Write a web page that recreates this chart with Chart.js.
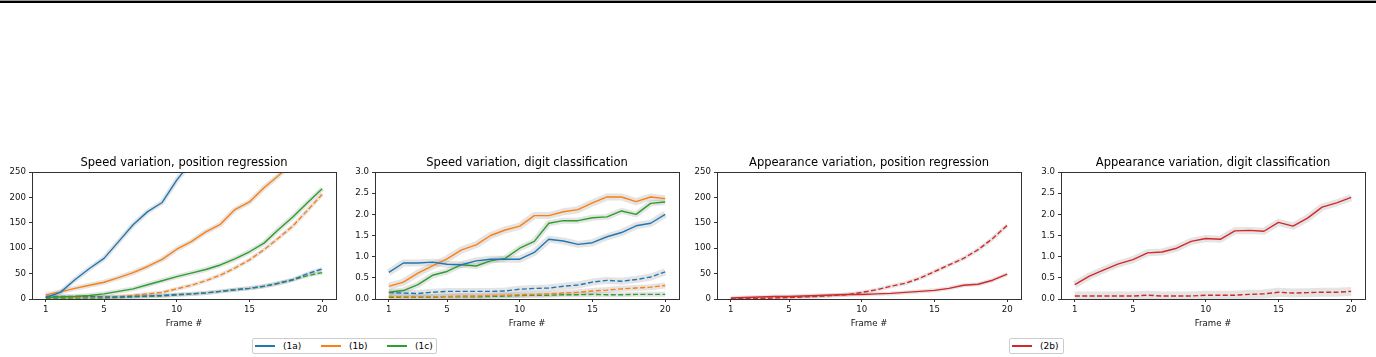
<!DOCTYPE html>
<html><head><meta charset="utf-8">
<script src="https://cdn.jsdelivr.net/npm/chart.js@4/dist/chart.umd.min.js"></script>
<style>
html,body{margin:0;padding:0;background:#fff;width:1376px;height:357px;overflow:hidden;font-family:'DejaVu Sans',sans-serif;}
#topline{position:absolute;left:0;top:0;width:1376px;height:1px;background:#999;}
#topline2{position:absolute;left:0;top:1px;width:1376px;height:2px;background:#000;}
.panel{position:absolute;top:150px;width:342px;height:180px;}
.legend{position:absolute;top:338px;height:16px;border:1px solid #ccc;border-radius:2px;box-sizing:border-box;background:#fff;font-size:9px;color:#000;}
.item{position:absolute;top:0;height:14px;line-height:14px;white-space:nowrap;}
.swatch{position:absolute;top:6px;width:20px;height:2px;}
</style></head>
<body>
<div id="topline"></div><div id="topline2"></div>
<div class="panel" id="p0"><canvas id="c0" width="342" height="180"></canvas></div>
<div class="panel" id="p1"><canvas id="c1" width="342" height="180"></canvas></div>
<div class="panel" id="p2"><canvas id="c2" width="342" height="180"></canvas></div>
<div class="panel" id="p3"><canvas id="c3" width="342" height="180"></canvas></div>
<div class="legend" id="leg1" style="left:252px;width:185px;">
  <div class="swatch" style="left:2px;background:#1f77b4"></div><div class="item" style="left:30px">(1a)</div>
  <div class="swatch" style="left:68px;background:#ff7f0e"></div><div class="item" style="left:96px">(1b)</div>
  <div class="swatch" style="left:134px;background:#2ca02c"></div><div class="item" style="left:162px">(1c)</div>
</div>
<div class="legend" id="leg2" style="left:1009px;width:55px;">
  <div class="swatch" style="left:2px;background:#d62728"></div><div class="item" style="left:30px">(2b)</div>
</div>
<script>
// ---- data ----
const frames = [1,2,3,4,5,6,7,8,9,10,11,12,13,14,15,16,17,18,19,20];
const xTicks = [1,5,10,15,20];
const yTicksPos = [0,50,100,150,200,250];
const yTicksCls = [0,0.5,1,1.5,2,2.5,3];
const titles = ["Speed variation, position regression","Speed variation, digit classification","Appearance variation, position regression","Appearance variation, digit classification"];
const xLabel = "Frame #";

// Speed variation, position regression
const speedPos1a = [3,13,38,60,80,113,146,172,190,234,270,305,340,375,410,445,480,515,550,585];
const speedPos1b = [8,14,21,27,33,42,52,64,78,98,113,132,147,176,191,219,243,270,300,330];
const speedPos1c = [3,4,5,7,10,15,20,28,36,44,51,58,67,79,93,110,137,162,190,217];
const speedPos1aDash = [5,5,5,5,4,4,5,6,7,9,10,12,15,18,21,25,31,38,50,59];
const speedPos1bDash = [3,3,3,4,4,5,7,10,13,20,27,36,47,61,77,97,120,144,175,206];
const speedPos1cDash = [1,1,2,2,2,3,4,5,6,8,10,12,15,18,21,25,31,38,46,52];

// Speed variation, digit classification
const speedCls1a = [0.63,0.85,0.85,0.87,0.82,0.81,0.90,0.94,0.94,0.94,1.10,1.41,1.37,1.29,1.33,1.47,1.57,1.73,1.79,2.00];
const speedCls1b = [0.30,0.40,0.61,0.78,0.95,1.16,1.28,1.50,1.63,1.72,1.97,1.97,2.06,2.11,2.27,2.41,2.41,2.30,2.41,2.37];
const speedCls1c = [0.16,0.20,0.34,0.56,0.65,0.81,0.78,0.90,0.96,1.20,1.36,1.79,1.85,1.85,1.92,1.94,2.08,2.00,2.26,2.29];
const speedCls1aDash = [0.15,0.14,0.13,0.16,0.18,0.18,0.18,0.18,0.19,0.23,0.25,0.26,0.30,0.33,0.40,0.44,0.42,0.46,0.52,0.64];
const speedCls1bDash = [0.06,0.05,0.05,0.05,0.06,0.07,0.07,0.08,0.09,0.10,0.11,0.12,0.14,0.16,0.19,0.21,0.24,0.26,0.28,0.32];
const speedCls1cDash = [0.04,0.04,0.04,0.04,0.05,0.05,0.05,0.06,0.07,0.08,0.09,0.09,0.10,0.10,0.11,0.10,0.10,0.11,0.11,0.11];

// Appearance variation
const appPos2b = [2,3,4,5,5,6,7,8,9,9,10,11,13,15,17,21,27,29,37,49];
const appPos2bDash = [0,1,1,2,3,4,5,7,8.5,13,18,25,31,41,54,67,80,97,119,145];
const appCls2b = [0.34,0.54,0.69,0.83,0.93,1.09,1.11,1.20,1.36,1.43,1.41,1.61,1.62,1.60,1.81,1.72,1.91,2.17,2.27,2.40];
const appCls2bDash = [0.07,0.07,0.07,0.07,0.07,0.09,0.07,0.07,0.07,0.09,0.09,0.09,0.11,0.12,0.16,0.14,0.15,0.16,0.16,0.18];

// ---- styling ----
const C = {a:'#1f77b4', b:'#ff7f0e', c:'#2ca02c', r:'#d62728'};
const plotLefts = [32,375,717,1061];
const FONT = "'DejaVu Sans'";

function pts(vals){ return frames.map((f,i)=>({x:f,y:vals[i]})); }

function series(vals, color, dashed, bandW){
  return [
    {data:pts(vals), borderColor:color, borderWidth:1.4, borderDash: dashed?[5,2.4]:[], pointRadius:0, tension:0, fill:false, order:0, borderJoinStyle:'round'},
    {data:pts(vals), borderColor:'rgba(150,150,150,0.26)', borderWidth:bandW, pointRadius:0, tension:0, fill:false, order:1, borderJoinStyle:'round', borderCapStyle:'butt'}
  ];
}

const framePlugin = {
  id:'frame',
  afterDraw(chart){
    const {ctx, chartArea:a} = chart;
    ctx.save();
    ctx.strokeStyle = '#333';
    ctx.lineWidth = 1;
    ctx.strokeRect(Math.round(a.left)+0.5, Math.round(a.top)+0.5, Math.round(a.right-a.left), Math.round(a.bottom-a.top));
    ctx.restore();
  }
};

function make(idx, datasets, yTicks, isCls){
  const el = document.getElementById('p'+idx);
  el.style.left = (plotLefts[idx]-32)+'px';
  const yMax = yTicks[yTicks.length-1];
  new Chart(document.getElementById('c'+idx), {
    type:'line',
    data:{datasets},
    options:{
      responsive:false, animation:false, events:[],
      layout:{padding:{left:0,right:6,top:0,bottom:0}},
      plugins:{
        legend:{display:false}, tooltip:{enabled:false},
        title:{display:true, text:titles[idx], fullSize:false, color:'#000',
               font:{family:FONT, size:11.5, weight:'normal', lineHeight:1.2}, padding:{top:6,bottom:2.2}}
      },
      scales:{
        x:{type:'linear', min:0.05, max:20.95,
           afterBuildTicks(s){ s.ticks = xTicks.map(v=>({value:v})); },
           afterFit(s){ s.height = 31; },
           ticks:{autoSkip:false, maxRotation:0, color:'#111', padding:3, font:{family:FONT,size:8.6}, callback:v=>String(v)},
           grid:{display:true, drawOnChartArea:false, drawTicks:true, tickLength:3, color:'#333', lineWidth:1},
           border:{display:false},
           title:{display:true, text:xLabel, color:'#111', font:{family:FONT,size:8.6,lineHeight:1.2}, padding:{top:1.5,bottom:1.5}}
        },
        y:{type:'linear', min:0, max:yMax,
           afterBuildTicks(s){ s.ticks = yTicks.map(v=>({value:v})); },
           afterFit(s){ s.width = 32; },
           ticks:{autoSkip:false, color:'#111', padding:3, font:{family:FONT,size:8.6},
                  callback:v=> isCls ? Number(v).toFixed(1) : String(v)},
           grid:{display:true, drawOnChartArea:false, drawTicks:true, tickLength:3, color:'#333', lineWidth:1},
           border:{display:false}
        }
      }
    },
    plugins:[framePlugin]
  });
}

make(0, [
  ...series(speedPos1a, C.a, false, 5), ...series(speedPos1b, C.b, false, 5), ...series(speedPos1c, C.c, false, 5),
  ...series(speedPos1aDash, C.a, true, 4), ...series(speedPos1bDash, C.b, true, 4), ...series(speedPos1cDash, C.c, true, 4)
], yTicksPos, false);
make(1, [
  ...series(speedCls1a, C.a, false, 7), ...series(speedCls1b, C.b, false, 7), ...series(speedCls1c, C.c, false, 6),
  ...series(speedCls1aDash, C.a, true, 7), ...series(speedCls1bDash, C.b, true, 6), ...series(speedCls1cDash, C.c, true, 5)
], yTicksCls, true);
make(2, [...series(appPos2b, C.r, false, 4), ...series(appPos2bDash, C.r, true, 4)], yTicksPos, false);
make(3, [...series(appCls2b, C.r, false, 7), ...series(appCls2bDash, C.r, true, 9)], yTicksCls, true);
</script>
</body></html>
